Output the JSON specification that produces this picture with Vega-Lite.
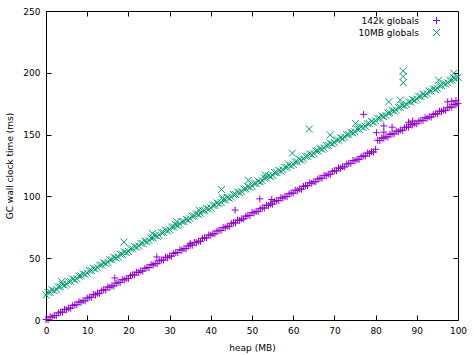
{
"$schema":"https://vega.github.io/schema/vega-lite/v6.json",
"autosize":{"type":"none"},
"width":412,"height":309,
"padding":{"left":46,"top":11,"right":16,"bottom":35},
"background":"white",
"config":{"view":{"stroke":"#000","strokeWidth":1},
"font":"DejaVu Sans",
"axis":{"labelFont":"DejaVu Sans","labelFontSize":9,"labelColor":"#000","labelFlush":false,"labelOverlap":false,"titleFont":"DejaVu Sans","titleFontSize":9,"titleFontWeight":"normal","titleColor":"#000","grid":false,"domain":false,"tickColor":"#000","tickSize":-5,"tickWidth":1}},
"data":{"values":[
{"h":0,"p":0.4,"g":20.3},{"h":0.5,"p":0.3,"g":22.4},{"h":1,"p":2.6,"g":22.4},{"h":1.5,"p":2.3,"g":24.3},{"h":2,"p":3.6,"g":23.7},{"h":2.5,"p":3.5,"g":24.7},{"h":3,"p":5.7,"g":26.8},{"h":3.5,"p":6.4,"g":26.8},{"h":4,"p":6.3,"g":28.7},{"h":4.5,"p":8.6,"g":28.1},
{"h":5,"p":8.3,"g":29.1},{"h":5.5,"p":9.7,"g":31.2},{"h":6,"p":9.5,"g":31.2},{"h":6.5,"p":11.7,"g":33.1},{"h":7,"p":12.4,"g":32.5},{"h":7.5,"p":12.3,"g":33.5},{"h":8,"p":14.7,"g":35.6},{"h":8.5,"p":14.3,"g":35.6},{"h":9,"p":15.7,"g":37.5},{"h":9.5,"p":15.5,"g":36.9},
{"h":10,"p":17.7,"g":37.9},{"h":10.5,"p":18.5,"g":40.0},{"h":11,"p":18.3,"g":40.0},{"h":11.5,"p":20.7,"g":41.9},{"h":12,"p":20.3,"g":41.3},{"h":12.5,"p":21.7,"g":42.3},{"h":13,"p":21.6,"g":44.4},{"h":13.5,"p":23.7,"g":44.4},{"h":14,"p":24.5,"g":46.3},{"h":14.5,"p":24.3,"g":45.7},
{"h":15,"p":26.7,"g":46.7},{"h":15.5,"p":26.4,"g":48.8},{"h":16,"p":27.7,"g":48.8},{"h":16.5,"p":27.6,"g":50.7},{"h":17,"p":29.7,"g":50.1},{"h":17.5,"p":30.5,"g":51.1},{"h":18,"p":30.4,"g":53.2},{"h":18.5,"p":32.7,"g":53.2},{"h":19,"p":32.4,"g":55.1},{"h":19.5,"p":33.7,"g":54.5},
{"h":20,"p":33.6,"g":55.5},{"h":20.5,"p":35.8,"g":57.6},{"h":21,"p":36.5,"g":57.6},{"h":21.5,"p":36.4,"g":59.5},{"h":22,"p":38.7,"g":58.9},{"h":22.5,"p":38.4,"g":59.9},{"h":23,"p":39.8,"g":62.0},{"h":23.5,"p":39.6,"g":62.0},{"h":24,"p":41.8,"g":63.9},{"h":24.5,"p":42.5,"g":63.3},
{"h":25,"p":42.4,"g":64.3},{"h":25.5,"p":44.8,"g":66.4},{"h":26,"p":44.4,"g":66.4},{"h":26.5,"p":45.8,"g":68.3},{"h":27,"p":45.6,"g":67.7},{"h":27.5,"p":47.8,"g":68.7},{"h":28,"p":48.6,"g":70.8},{"h":28.5,"p":48.4,"g":70.8},{"h":29,"p":50.8,"g":72.7},{"h":29.5,"p":50.4,"g":72.1},
{"h":30,"p":51.8,"g":73.1},{"h":30.5,"p":51.7,"g":75.2},{"h":31,"p":53.8,"g":75.2},{"h":31.5,"p":54.6,"g":77.1},{"h":32,"p":54.4,"g":76.5},{"h":32.5,"p":56.8,"g":77.5},{"h":33,"p":56.5,"g":79.6},{"h":33.5,"p":57.8,"g":79.6},{"h":34,"p":57.7,"g":81.5},{"h":34.5,"p":59.8,"g":80.9},
{"h":35,"p":60.6,"g":81.9},{"h":35.5,"p":60.5,"g":84.0},{"h":36,"p":62.8,"g":84.0},{"h":36.5,"p":62.5,"g":85.9},{"h":37,"p":63.8,"g":85.3},{"h":37.5,"p":63.7,"g":86.3},{"h":38,"p":65.9,"g":88.4},{"h":38.5,"p":66.6,"g":88.4},{"h":39,"p":66.5,"g":90.3},{"h":39.5,"p":68.8,"g":89.7},
{"h":40,"p":68.5,"g":90.7},{"h":40.5,"p":69.9,"g":92.8},{"h":41,"p":69.7,"g":92.8},{"h":41.5,"p":71.9,"g":94.7},{"h":42,"p":72.6,"g":94.1},{"h":42.5,"p":72.5,"g":95.1},{"h":43,"p":74.9,"g":97.2},{"h":43.5,"p":74.5,"g":97.2},{"h":44,"p":75.9,"g":99.1},{"h":44.5,"p":75.7,"g":98.5},
{"h":45,"p":77.9,"g":99.5},{"h":45.5,"p":78.7,"g":101.6},{"h":46,"p":78.5,"g":101.6},{"h":46.5,"p":80.9,"g":103.5},{"h":47,"p":80.5,"g":102.9},{"h":47.5,"p":81.9,"g":103.9},{"h":48,"p":81.8,"g":106.0},{"h":48.5,"p":83.9,"g":106.0},{"h":49,"p":84.7,"g":107.9},{"h":49.5,"p":84.5,"g":107.3},
{"h":50,"p":86.9,"g":108.3},{"h":50.5,"p":86.6,"g":110.4},{"h":51,"p":87.9,"g":110.4},{"h":51.5,"p":87.8,"g":112.3},{"h":52,"p":89.9,"g":111.7},{"h":52.5,"p":90.7,"g":112.7},{"h":53,"p":90.6,"g":114.8},{"h":53.5,"p":92.9,"g":114.8},{"h":54,"p":92.6,"g":116.7},{"h":54.5,"p":93.9,"g":116.1},
{"h":55,"p":93.8,"g":117.1},{"h":55.5,"p":96.0,"g":119.2},{"h":56,"p":96.7,"g":119.2},{"h":56.5,"p":96.6,"g":121.1},{"h":57,"p":98.9,"g":120.5},{"h":57.5,"p":98.6,"g":121.5},{"h":58,"p":100.0,"g":123.6},{"h":58.5,"p":99.8,"g":123.6},{"h":59,"p":102.0,"g":125.5},{"h":59.5,"p":102.7,"g":124.9},
{"h":60,"p":102.6,"g":125.9},{"h":60.5,"p":105.0,"g":128.0},{"h":61,"p":104.6,"g":128.0},{"h":61.5,"p":106.0,"g":129.9},{"h":62,"p":105.8,"g":129.3},{"h":62.5,"p":108.0,"g":130.3},{"h":63,"p":108.8,"g":132.4},{"h":63.5,"p":108.6,"g":132.4},{"h":64,"p":111.0,"g":134.3},{"h":64.5,"p":110.6,"g":133.7},
{"h":65,"p":112.0,"g":134.7},{"h":65.5,"p":111.9,"g":136.8},{"h":66,"p":114.0,"g":136.8},{"h":66.5,"p":114.8,"g":138.7},{"h":67,"p":114.6,"g":138.1},{"h":67.5,"p":117.0,"g":139.1},{"h":68,"p":116.7,"g":141.2},{"h":68.5,"p":118.0,"g":141.2},{"h":69,"p":117.9,"g":143.1},{"h":69.5,"p":120.0,"g":142.5},
{"h":70,"p":120.8,"g":143.5},{"h":70.5,"p":120.7,"g":145.6},{"h":71,"p":123.0,"g":145.6},{"h":71.5,"p":122.7,"g":147.5},{"h":72,"p":124.0,"g":146.9},{"h":72.5,"p":123.9,"g":147.9},{"h":73,"p":126.1,"g":150.0},{"h":73.5,"p":126.8,"g":150.0},{"h":74,"p":126.7,"g":151.9},{"h":74.5,"p":129.0,"g":151.3},
{"h":75,"p":128.7,"g":152.3},{"h":75.5,"p":130.1,"g":154.4},{"h":76,"p":129.9,"g":154.4},{"h":76.5,"p":132.1,"g":156.3},{"h":77,"p":132.8,"g":155.7},{"h":77.5,"p":132.7,"g":156.7},{"h":78,"p":135.1,"g":158.8},{"h":78.5,"p":134.7,"g":158.8},{"h":79,"p":136.1,"g":160.7},{"h":79.5,"p":135.9,"g":160.1},
{"h":80,"p":138.1,"g":161.1},{"h":80.5,"p":145.4,"g":163.2},{"h":81,"p":145.2,"g":163.2},{"h":81.5,"p":147.4,"g":165.1},{"h":82,"p":147.0,"g":164.5},{"h":82.5,"p":148.3,"g":165.5},{"h":83,"p":148.1,"g":167.6},{"h":83.5,"p":150.1,"g":167.6},{"h":84,"p":150.8,"g":169.5},{"h":84.5,"p":150.6,"g":168.9},
{"h":85,"p":152.8,"g":169.9},{"h":85.5,"p":152.4,"g":172.0},{"h":86,"p":153.7,"g":172.0},{"h":86.5,"p":153.4,"g":173.9},{"h":87,"p":155.5,"g":173.3},{"h":87.5,"p":156.2,"g":174.3},{"h":88,"p":156.0,"g":176.4},{"h":88.5,"p":158.2,"g":176.4},{"h":89,"p":157.8,"g":178.3},{"h":89.5,"p":159.1,"g":177.7},
{"h":90,"p":158.8,"g":178.7},{"h":90.5,"p":160.9,"g":180.8},{"h":91,"p":161.6,"g":180.8},{"h":91.5,"p":161.3,"g":182.7},{"h":92,"p":163.6,"g":182.1},{"h":92.5,"p":163.2,"g":183.1},{"h":93,"p":164.5,"g":185.2},{"h":93.5,"p":164.2,"g":185.2},{"h":94,"p":166.3,"g":187.1},{"h":94.5,"p":167.0,"g":186.5},
{"h":95,"p":166.7,"g":187.5},{"h":95.5,"p":169.0,"g":189.6},{"h":96,"p":168.6,"g":189.6},{"h":96.5,"p":169.8,"g":191.5},{"h":97,"p":169.6,"g":190.9},{"h":97.5,"p":171.7,"g":191.9},{"h":98,"p":172.4,"g":194.0},{"h":98.5,"p":172.1,"g":194.0},{"h":99,"p":174.4,"g":195.9},{"h":99.5,"p":174.0,"g":195.3},
{"h":100,"p":175.2,"g":196.3},
{"h":3.8,"g":31},{"h":18.9,"g":63},{"h":25.8,"g":70},{"h":31.7,"g":79.5},{"h":37.2,"g":89},{"h":42.6,"g":105.5},{"h":42.8,"g":99},{"h":49.1,"g":113},{"h":53.2,"g":117.5},{"h":59.8,"g":135},{"h":63.9,"g":154.5},{"h":69,"g":149.7},{"h":75.1,"g":159},{"h":83.2,"g":176.6},{"h":86,"g":178},{"h":86.7,"g":201.5},{"h":86.7,"g":197},{"h":86.7,"g":192},{"h":95.3,"g":194},{"h":99,"g":199.6},
{"h":16.7,"p":34},{"h":26.9,"p":51},{"h":35,"p":62},{"h":45.9,"p":89},{"h":51.9,"p":98},{"h":54.8,"p":97.5},{"h":77.1,"p":166.4},{"h":80.2,"p":151.5},{"h":82,"p":157},{"h":82,"p":152},{"h":84,"p":156},{"h":88,"p":160},{"h":89,"p":161},{"h":97.5,"p":176.5},{"h":98.5,"p":177},{"h":99.5,"p":177.5}
]},
"transform":[{"fold":["p","g"],"as":["s","t"]},{"filter":"isValid(datum.t)"}],
"resolve":{"axis":{"x":"independent","y":"independent"}},
"layer":[
{"mark":{"type":"point","filled":false,"strokeWidth":1,"size":49,"opacity":1},
"encoding":{
"x":{"field":"h","type":"quantitative","scale":{"domain":[0,100],"nice":false,"zero":false},"axis":{"title":"heap (MB)","values":[0,10,20,30,40,50,60,70,80,90,100],"labelPadding":11,"titlePadding":8}},
"y":{"field":"t","type":"quantitative","scale":{"domain":[0,250],"nice":false},"axis":{"title":"GC wall clock time (ms)","values":[0,50,100,150,200,250],"labelPadding":11,"titlePadding":8}},
"color":{"field":"s","type":"nominal","scale":{"domain":["p","g"],"range":["#9400d3","#009e73"]},
"legend":{"title":null,"orient":"none","legendX":386,"legendY":5,"padding":0,"labelAlign":"right","labelOffset":-22,"labelFont":"DejaVu Sans","labelFontSize":9,"labelColor":"#000","rowPadding":1,"symbolStrokeWidth":1,"symbolSize":49,"labelExpr":"datum.label == 'p' ? '142k globals' : '10MB globals'"}},
"shape":{"field":"s","type":"nominal","scale":{"domain":["p","g"],"range":["M-1,0H1M0,-1V1","M-1,-1L1,1M-1,1L1,-1"]}}
}},
{"mark":{"type":"point","opacity":0},
"encoding":{
"x":{"field":"h","type":"quantitative","scale":{"domain":[0,100],"nice":false,"zero":false},"axis":{"orient":"top","title":null,"labels":false,"values":[10,20,30,40,50,60,70,80,90]}},
"y":{"field":"t","type":"quantitative","scale":{"domain":[0,250],"nice":false},"axis":{"orient":"right","title":null,"labels":false,"values":[50,100,150,200]}}
}}
]
}
